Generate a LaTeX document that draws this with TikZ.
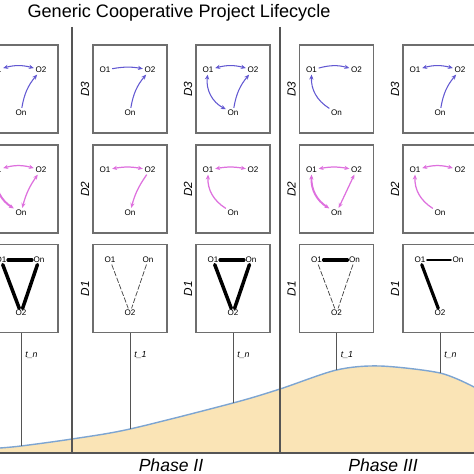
\documentclass[tikz,border=0pt]{standalone}
\usepackage{fontspec}
\setmainfont{Liberation Sans}
\usetikzlibrary{arrows.meta,positioning}

\definecolor{sand}{RGB}{250,228,182}
\definecolor{hillline}{RGB}{125,165,210}
\definecolor{linkblue}{RGB}{98,88,210}
\definecolor{linkpink}{RGB}{222,112,222}
\definecolor{framegray}{RGB}{110,110,110}
\definecolor{rulegray}{RGB}{85,85,85}

\tikzset{
  panel/.style={draw=framegray,line width=0.8pt,fill=white,
    minimum width=1.48cm,minimum height=1.76cm,inner sep=0pt},
  actor/.style={font=\fontsize{4.6}{5}\selectfont,inner sep=0.8pt},
  dlab/.style={font=\fontsize{6.7}{7}\selectfont\itshape,rotate=90},
  tlab/.style={font=\fontsize{5}{6}\selectfont\itshape,anchor=west,inner sep=0pt},
  blu/.style={draw=linkblue,line width=0.6pt},
  pnk/.style={draw=linkpink,line width=0.7pt},
  tie/.style={line width=2pt,line cap=round},
  weak/.style={line width=0.4pt,dash pattern=on 3pt off 1pt,black!75},
  rule/.style={draw=rulegray,line width=0.6pt}
}

\begin{document}
\begin{tikzpicture}[>={Stealth[length=2.8pt,width=2.4pt]}]
  \useasboundingbox (0,0) rectangle (9.48,9.48);

  \fill[sand] (0,0.42) -- plot[smooth] coordinates {(0,0.52) (0.42,0.56) (1.44,0.70)
    (2.6,0.90) (4.66,1.42) (5.6,1.70) (6.73,2.08) (7.6,2.16) (8.8,2.02) (9.48,1.74)}
    -- (9.48,0.42) -- cycle;
  \draw[hillline,line width=0.8pt] plot[smooth] coordinates {(0,0.52) (0.42,0.56) (1.44,0.70)
    (2.6,0.90) (4.66,1.42) (5.6,1.70) (6.73,2.08) (7.6,2.16) (8.8,2.02) (9.48,1.74)};
  \draw[rule] (0,0.42) -- (9.48,0.42);
  \draw[rule] (1.44,8.94) -- (1.44,0.42);
  \draw[rule] (5.6,8.94) -- (5.6,0.42);

  \node[font=\fontsize{10.3}{12}\selectfont] (ttl) at (3.58,9.22)
    {Generic Cooperative Project Lifecycle};

  \foreach \col/\x in {1/0.42,2/2.6,3/4.66,4/6.73,5/8.8}{
    \foreach \row/\y in {3/7.7,2/5.7}{
      \node[panel] (p\col\row) at (\x,\y) {};
      \node[actor] (p\col\row a) at (\x-0.5,\y+0.38) {O1};
      \node[actor] (p\col\row b) at (\x+0.4,\y+0.38) {O2};
      \node[actor] (p\col\row n) at (\x,\y-0.47) {On};
    }
    \node[panel] (p\col1) at (\x,3.71) {};
    \node[actor] (p\col1a) at (\x-0.4,4.28) {O1};
    \node[actor] (p\col1n) at (\x+0.36,4.28) {On};
    \node[actor] (p\col1b) at (\x,3.22) {O2};
  }

  \foreach \col/\x in {2/2.6,3/4.66,4/6.73,5/8.8}{
    \node[dlab] (d\col3) at (\x-0.9,7.7) {D3};
    \node[dlab] (d\col2) at (\x-0.9,5.7) {D2};
    \node[dlab] (d\col1) at (\x-0.9,3.71) {D1};
  }

  \foreach \col/\x/\y/\t in {1/0.42/0.56/n,2/2.6/0.90/1,3/4.66/1.42/n,4/6.73/2.08/1,5/8.8/2.02/n}{
    \coordinate (s\col) at (\x,\y);
    \draw[rule,line width=0.5pt] (p\col1) -- (s\col);
    \node[tlab] (t\col) at (\x+0.08,2.38) {t\_\t};
  }

  \node[font=\fontsize{10}{12}\selectfont\itshape] (ph2) at (3.42,0.18) {Phase II};
  \node[font=\fontsize{10}{12}\selectfont\itshape] (ph3) at (7.66,0.18) {Phase III};

  \draw[blu,<->] (p13a) to[bend left=15] (p13b);
  \draw[blu,->] (p13n) to[bend left=15] (p13b);
  \draw[pnk,<->] (p12a) to[bend left=15] (p12b);
  \draw[pnk,<->,line width=1.1pt] (p12a) to[bend right=30] (p12n);
  \draw[pnk,<->] (p12n) to[bend left=10] (p12b);
  \draw[tie] (p11a) -- (p11n);
  \draw[tie] (p11a) -- (p11b);
  \draw[tie] (p11n) -- (p11b);

  \draw[blu,->] (p23a) to[bend left=10] (p23b);
  \draw[blu,->] (p23n) to[bend left=15] (p23b);
  \draw[pnk,<->] (p22a) to[bend left=10] (p22b);
  \draw[pnk,->] (p22b) to[bend right=10] (p22n);
  \draw[weak] (p21a) -- (p21b);
  \draw[weak] (p21n) -- (p21b);

  \draw[blu,<->] (p33a) to[bend left=15] (p33b);
  \draw[blu,<->] (p33a) to[bend right=35] (p33n);
  \draw[blu,->] (p33n) to[bend left=15] (p33b);
  \draw[pnk,<->] (p32a) to[bend left=10] (p32b);
  \draw[pnk,->] (p32n) to[bend left=30] (p32a);
  \draw[tie] (p31a) -- (p31n);
  \draw[tie] (p31a) -- (p31b);
  \draw[tie] (p31n) -- (p31b);

  \draw[blu,->] (p43a) to[bend left=15] (p43b);
  \draw[blu,->] (p43n) to[bend left=30] (p43a);
  \draw[pnk,<->] (p42a) to[bend left=10] (p42b);
  \draw[pnk,<->,line width=1.1pt] (p42a) to[bend right=30] (p42n);
  \draw[pnk,<->] (p42b) -- (p42n);
  \draw[tie] (p41a) -- (p41n);
  \draw[weak] (p41a) -- (p41b);
  \draw[weak] (p41n) -- (p41b);

  \draw[blu,<->] (p53a) to[bend left=15] (p53b);
  \draw[blu,->] (p53n) to[bend left=15] (p53b);
  \draw[pnk,<->] (p52a) to[bend left=15] (p52b);
  \draw[pnk,->] (p52n) to[bend left=30] (p52a);
  \draw[tie,line width=1.2pt] (p51a) -- (p51n);
  \draw[tie,line width=1.8pt] (p51a) -- (p51b);
\end{tikzpicture}
\end{document}
